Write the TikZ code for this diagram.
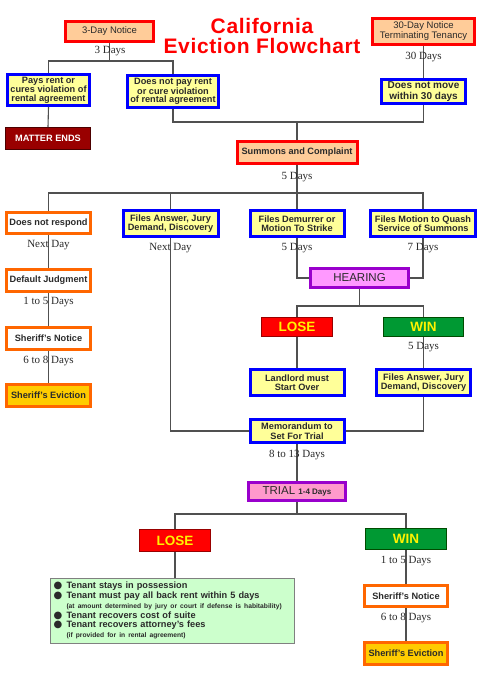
\documentclass[tikz,border=0pt]{standalone}
\usepackage{fontspec}
\setmainfont{Liberation Sans}
\newfontfamily\serifl{Liberation Serif}
\newfontfamily\symf{DejaVu Sans}
\newfontfamily\titlef[LetterSpace=3]{Liberation Sans Bold}
\definecolor{peach}{HTML}{FFCC99}
\definecolor{lyellow}{HTML}{FFFF99}
\definecolor{orng}{HTML}{FF6600}
\definecolor{gold}{HTML}{FFCC00}
\definecolor{purp}{HTML}{9900CC}
\definecolor{hearfill}{HTML}{FF99FF}
\definecolor{trialfill}{HTML}{FF99CC}
\definecolor{darkred}{HTML}{990000}
\definecolor{wingreen}{HTML}{009933}
\definecolor{lgreen}{HTML}{CCFFCC}
\definecolor{txt}{HTML}{2A2A2A}
\definecolor{linegray}{HTML}{505050}
\tikzset{
  every node/.style={font=\fontsize{9.2}{9.5}\selectfont\bfseries, text=txt, align=center, inner sep=1pt},
  redbox/.style={draw=red, line width=3pt, fill=peach, font=\fontsize{9.5}{10}\selectfont},
  bluebox/.style={draw=blue, line width=3pt, fill=lyellow},
  orbox/.style={draw=orng, line width=3pt, fill=white},
  evbox/.style={orbox, fill=gold},
  purbox/.style={draw=purp, line width=3pt, font=\fontsize{11.5}{12}\selectfont},
  losebox/.style={draw=darkred, line width=0.8pt, fill=red, text=yellow, font=\fontsize{13.5}{14}\selectfont\bfseries},
  winbox/.style={draw=black!70!green, line width=0.8pt, fill=wingreen, text=yellow, font=\fontsize{13.5}{14}\selectfont\bfseries},
  lbl/.style={font=\serifl\fontsize{11}{12}\selectfont, text=txt, inner sep=0pt},
  con/.style={draw=linegray, line width=1.1pt},
  titlefont/.style={font=\titlef\fontsize{21}{20}\selectfont, inner sep=0pt, text=red}
}
\newcommand{\bul}{\makebox[13pt][l]{{\symf\fontsize{10}{10}\selectfont ●}}}
\newcommand{\smalltxt}[1]{\hspace*{13pt}\mbox{\fontsize{6.7}{7}\selectfont #1}}
\begin{document}
\begin{tikzpicture}[x=1pt,y=-1pt]
\useasboundingbox[fill=white] (0,0) rectangle (479,676);
% title
\node[titlefont] (title) at (262,36) {California\\Eviction Flowchart};
% top row
\node[redbox, minimum width=88, minimum height=20] (n3) at (109.5,31.5) {3-Day Notice};
\node[redbox, minimum width=102, minimum height=26] (n30) at (423.5,31.5) {30-Day Notice\\Terminating Tenancy};
\node[bluebox, minimum width=82, minimum height=31, font=\fontsize{9.2}{8.5}\selectfont\bfseries] (pays) at (48.5,90) {Pays rent or\\cures violation of\\rental agreement};
\node[bluebox, minimum width=91, minimum height=32, font=\fontsize{9.2}{8.5}\selectfont\bfseries] (notpay) at (173,91.5) {Does not pay rent\\or cure violation\\of rental agreement};
\node[bluebox, minimum width=84, minimum height=24, font=\fontsize{10}{11}\selectfont\bfseries] (notmove) at (423.5,91.5) {Does not move\\within 30 days};
\node[draw=black!70!red, line width=0.8pt, fill=darkred, text=white, minimum width=85, minimum height=22] (matter) at (48,138.5) {MATTER ENDS};
\node[redbox, font=\fontsize{9.2}{10}\selectfont\bfseries, minimum width=120, minimum height=22] (summons) at (297,152.5) {Summons and Complaint};
% second row
\node[orbox, minimum width=84, minimum height=21] (noresp) at (48.5,223) {Does not respond};
\node[bluebox, minimum width=95, minimum height=26] (answer1) at (170.5,223.5) {Files Answer, Jury\\Demand, Discovery};
\node[bluebox, minimum width=94, minimum height=26] (demurrer) at (297,223.5) {Files Demurrer or\\Motion To Strike};
\node[bluebox, minimum width=105, minimum height=26] (quash) at (423,223.5) {Files Motion to Quash\\Service of Summons};
% left column
\node[orbox, minimum width=84, minimum height=22] (default) at (48.5,280.5) {Default Judgment};
\node[orbox, minimum width=84, minimum height=22] (notice1) at (48.5,338.5) {Sheriff's Notice};
\node[evbox, minimum width=84, minimum height=22] (evict1) at (48.5,395.5) {Sheriff's Eviction};
% hearing
\node[purbox, fill=hearfill, minimum width=98, minimum height=19] (hearing) at (359.5,278) {HEARING};
\node[losebox, minimum width=71, minimum height=19] (lose1) at (297,327) {LOSE};
\node[winbox, minimum width=80, minimum height=19] (win1) at (423.5,327) {WIN};
\node[bluebox, minimum width=94, minimum height=26] (landlord) at (297,382.5) {Landlord must\\Start Over};
\node[bluebox, minimum width=94, minimum height=26] (answer2) at (423.5,382.5) {Files Answer, Jury\\Demand, Discovery};
\node[bluebox, minimum width=94, minimum height=23, font=\fontsize{9.2}{10}\selectfont\bfseries] (memo) at (297,431) {Memorandum to\\Set For Trial};
\node[purbox, fill=trialfill, minimum width=97, minimum height=18] (trial) at (297,491.5) {TRIAL {\fontsize{8}{9}\selectfont\bfseries 1-4 Days}};
\node[losebox, minimum width=71, minimum height=22] (lose2) at (175,540.5) {LOSE};
\node[winbox, minimum width=81, minimum height=21] (win2) at (406,539) {WIN};
\node[draw=gray, line width=0.8pt, fill=lgreen, minimum width=244, minimum height=65, text width=237pt, align=left, inner sep=3pt, font=\fontsize{9.2}{9.8}\selectfont\bfseries] (result) at (172,610.5) {%
\bul Tenant stays in possession\\
\bul Tenant must pay all back rent within 5 days\\
\smalltxt{(at amount determined by jury or court if defense is habitability)}\\
\bul Tenant recovers cost of suite\\
\bul Tenant recovers attorney's fees\\
\smalltxt{(if provided for in rental agreement)}};
\node[orbox, minimum width=83, minimum height=21] (notice2) at (406,596) {Sheriff's Notice};
\node[evbox, minimum width=83, minimum height=22] (evict2) at (406,653.5) {Sheriff's Eviction};
% junctions
\coordinate (j1) at (n3.south |- 0,61);
\coordinate (j2) at (summons.north |- 0,122);
\coordinate (j3) at (summons.south |- 0,193);
\coordinate (j4) at (hearing.south |- 0,306);
\coordinate (j5) at (trial.south |- 0,514);
% connectors
\draw[con] (n3.south) -- (j1);
\draw[con] (pays.north) |- (j1) -| (notpay.north);
\draw[con] (pays.south) -- (matter.north);
\draw[con] (n30.south) -- (notmove.north);
\draw[con] (notpay.south) |- (j2) -| (notmove.south);
\draw[con] (j2) -- (summons.north);
\draw[con] (summons.south) -- (j3);
\draw[con] (noresp.north) |- (j3) -| (quash.north);
\draw[con] (answer1.north) -- (answer1.north |- j3);
\draw[con] (demurrer.north) -- (demurrer.north |- j3);
\draw[con] (noresp.south) -- (default.north);
\draw[con] (default.south) -- (notice1.north);
\draw[con] (notice1.south) -- (evict1.north);
\draw[con] (demurrer.south) |- (hearing.west);
\draw[con] (quash.south) |- (hearing.east);
\draw[con] (hearing.south) -- (j4);
\draw[con] (lose1.north) |- (j4) -| (win1.north);
\draw[con] (lose1.south) -- (landlord.north);
\draw[con] (win1.south) -- (answer2.north);
\draw[con] (answer1.south) |- (memo.west);
\draw[con] (answer2.south) |- (memo.east);
\draw[con] (memo.south) -- (trial.north);
\draw[con] (trial.south) -- (j5);
\draw[con] (lose2.north) |- (j5) -| (win2.north);
\draw[con] (lose2.south) -- (lose2.south |- result.north);
\draw[con] (win2.south) -- (notice2.north);
\draw[con] (notice2.south) -- (evict2.north);
% labels
\node[lbl] (l1) at (110,51.5) {3 Days};
\node[lbl] (l2) at (423.5,57.5) {30 Days};
\node[lbl] (l3) at (297,177) {5 Days};
\node[lbl] (l4) at (48.5,245) {Next Day};
\node[lbl] (l5) at (48.5,302.5) {1 to 5 Days};
\node[lbl] (l6) at (48.5,361) {6 to 8 Days};
\node[lbl] (l7) at (170.5,248) {Next Day};
\node[lbl] (l8) at (297,248) {5 Days};
\node[lbl] (l9) at (423,248) {7 Days};
\node[lbl] (l10) at (423.5,347) {5 Days};
\node[lbl] (l11) at (297,455) {8 to 13 Days};
\node[lbl] (l12) at (406,561) {1 to 5 Days};
\node[lbl] (l13) at (406,618) {6 to 8 Days};
\end{tikzpicture}
\end{document}
